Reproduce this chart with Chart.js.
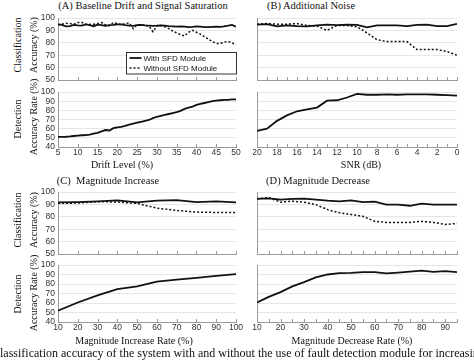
<!DOCTYPE html>
<html>
<head>
<meta charset="utf-8">
<script src="https://cdn.jsdelivr.net/npm/chart.js@4.4.0/dist/chart.umd.min.js"></script>
<style>
  html, body { margin: 0; padding: 0; background: #fff; }
  #wrap { position: relative; width: 474px; height: 362px; overflow: hidden;
          font-family: "Liberation Serif", "Times New Roman", serif; color: #111; }
  canvas { position: absolute; }
  .t { position: absolute; font-size: 10px; line-height: 1; white-space: nowrap; transform: translate(-50%, -50%); }
  .v { position: absolute; font-size: 10px; line-height: 1; white-space: nowrap; transform: translate(-50%, -50%) rotate(-90deg); }
  .h { font-size: 10.5px; }
  .cap { position: absolute; left: 0; top: 347px; font-size: 12px; line-height: 1; white-space: nowrap; }
</style>
</head>
<body>
<div id="wrap">
  <canvas id="aCls"></canvas>
  <canvas id="aDet"></canvas>
  <canvas id="bCls"></canvas>
  <canvas id="bDet"></canvas>
  <canvas id="cCls"></canvas>
  <canvas id="cDet"></canvas>
  <canvas id="dCls"></canvas>
  <canvas id="dDet"></canvas>

  <div class="t h" style="left:143px;top:6px">(A) Baseline Drift and Signal Saturation</div>
  <div class="t h" style="left:311px;top:6px">(B) Additional Noise</div>
  <div class="t h" style="left:108px;top:181px">(C)&nbsp; Magnitude Increase</div>
  <div class="t h" style="left:318px;top:181px">(D) Magnitude Decrease</div>

  <div class="v" style="left:18px;top:45px">Classification</div>
  <div class="v" style="left:34px;top:45px">Accuracy (%)</div>
  <div class="v" style="left:18px;top:119px">Detection</div>
  <div class="v" style="left:34px;top:117px">Accuracy Rate (%)</div>
  <div class="v" style="left:18px;top:220px">Classification</div>
  <div class="v" style="left:34px;top:220px">Accuracy (%)</div>
  <div class="v" style="left:18px;top:294px">Detection</div>
  <div class="v" style="left:34px;top:293px">Accuracy Rate (%)</div>

  <div class="t" style="left:122px;top:165px">Drift Level (%)</div>
  <div class="t" style="left:361px;top:165px">SNR (dB)</div>
  <div class="t" style="left:134px;top:341px">Magnitude Increase Rate (%)</div>
  <div class="t" style="left:352px;top:341px">Magnitude Decrease Rate (%)</div>

  <div class="cap">lassification accuracy of the system with and without the use of fault detection module for increasing signal d</div>
</div>

<script>
// (A) baseline drift
const driftLevel = [5,6,7,8,9,10,11,12,13,14,15,16,17,18,19,20,21,22,23,24,25,26,27,28,29,30,31,32,33,34,35,36,37,38,39,40,41,42,43,44,45,46,47,48,49,50];
const driftClsWith = [94.9,94.5,93.2,93.5,94.5,94,93.8,94.8,94.2,93.4,94.6,94.2,93.6,94.3,94.5,94.8,94.9,94.3,93.8,93.6,94.2,94.4,94,93.8,93.6,93.8,94.1,93.9,93.5,93.3,93,93.2,93,92.6,92.8,93.2,93,92.6,92.6,92.9,93,92.8,93.2,93.8,94.5,93];
const driftClsWithout = [94.5,95,95.8,95.5,95,96.3,96.5,95,94.8,95,95.5,96.3,94.5,93.8,96.3,95.5,94.5,95.5,96,91.5,94.5,94.5,94,93.5,89,93.5,94,93,91.5,89.5,88,86.5,85.5,88.5,90,88.5,87,85,83,81,79.5,79.5,80.5,81,80,78.5];
const driftDet = [51,51,51.2,51.5,52,52.5,52.8,53,53.5,54.5,55.5,57,58.5,58,60.5,61.5,62,63,64.5,65.5,66.5,67.5,68.5,69.5,71.5,73,74,75,76,77,78,79.5,81.5,83,84,86,87,88,89,90,90.5,91,91.5,91.5,92,92];

// (B) additional noise
const snrLevel = [20,19,18,17,16,15,14,13,12,11,10,9,8,7,6,5,4,3,2,1,0];
const noiseClsWith = [94.7,95,93.3,94,93.5,93.3,94,94.7,94.2,94.7,94.5,92.5,94,94,94,93.5,94.5,94.7,93.5,93.5,95.2];
const noiseClsWithout = [95,95.5,95,95,95.5,94,93.5,90,94,94,93,88,82.5,81,81,81,74.5,74.5,74.5,73,70];
const noiseDet = [57.5,60,68.5,74.5,79,81,83,90.5,91,94,98,97,97,97.5,97,97.5,97.5,97.5,97,96.5,96];

// (C) magnitude increase
const incRate = [10,20,30,40,50,60,70,80,90,100];
const incClsWith = [91.6,91.9,92.4,93.2,91.6,93,93.5,91.9,92.4,91.6];
const incClsWithout = [90.8,91.1,92.2,91.9,90.8,87,85.1,83.8,83.5,83.5];
const incDet = [52,60.5,68,74.5,77.5,82.5,84.5,86.5,88.5,90.5];

// (D) magnitude decrease
const decRate = [10,15,20,25,30,35,40,45,50,55,60,65,70,75,80,85,90,95];
const decClsWith = [94.4,94.8,93.8,94.4,94.6,93.8,93,92.5,93.3,91.8,92.2,89.8,89.8,88.9,90.6,89.8,89.8,89.8];
const decClsWithout = [94.6,95.4,91.8,92.6,91.8,89.8,85.8,83.2,81.8,80.4,76.4,75.5,75.5,75.5,76.3,75.5,73.8,74.6];
const decDet = [60.5,66.5,71.5,77.5,82,87,90,91.5,91.8,92.4,92.4,91.2,92,93,94,92.8,93.5,92.5];

const tickFont = { family: '"Liberation Sans Narrow", "Liberation Sans", Arial, sans-serif', size: 8.5 };
const axisColor = '#9a9a9a';

// small tick marks pointing into the plot from the x axis
const innerTicks = {
  id: 'innerTicks',
  afterDraw(chart, args, opts) {
    const xs = chart.scales.x, a = chart.chartArea, ctx = chart.ctx;
    ctx.save();
    ctx.strokeStyle = axisColor;
    ctx.lineWidth = 1;
    ctx.beginPath();
    for (let v = xs.min; v <= xs.max + 1e-6; v += opts.step) {
      const px = Math.round(xs.getPixelForValue(v)) + 0.5;
      ctx.moveTo(px, a.bottom);
      ctx.lineTo(px, a.bottom - 3);
    }
    ctx.stroke();
    ctx.restore();
  }
};

// boxed legend in the lower right of the plot
const boxLegend = {
  id: 'boxLegend',
  afterDraw(chart, args, opts) {
    if (!opts.show) return;
    const a = chart.chartArea, ctx = chart.ctx;
    const w = 110, h = 21.5;
    const x0 = Math.round(a.right - w) + 0.5, y0 = Math.round(a.bottom - h - 7) + 0.5;
    ctx.save();
    ctx.fillStyle = '#fff';
    ctx.fillRect(x0, y0, w, h);
    ctx.strokeStyle = '#333';
    ctx.lineWidth = 1;
    ctx.strokeRect(x0, y0, w, h);
    ctx.font = '8px "Liberation Sans", Arial, sans-serif';
    ctx.textBaseline = 'middle';
    chart.data.datasets.forEach((ds, i) => {
      const yy = y0 + 5.5 + i * 10;
      ctx.strokeStyle = ds.borderColor;
      ctx.lineWidth = ds.borderWidth;
      ctx.setLineDash(ds.borderDash || []);
      ctx.beginPath();
      ctx.moveTo(x0 + 3, yy);
      ctx.lineTo(x0 + 15, yy);
      ctx.stroke();
      ctx.setLineDash([]);
      ctx.fillStyle = '#111';
      ctx.fillText(ds.label, x0 + 17, yy + 0.5);
    });
    ctx.restore();
  }
};

function pts(xs, ys) { return xs.map((x, i) => ({ x: x, y: ys[i] })); }

function panel(id, box, o) {
  const padTop = 6, padRight = 14;
  const yW = o.yLabels ? 30 : 4;
  const xH = o.xLabels ? 16 : 2;
  const cv = document.getElementById(id);
  const w = (box.r - box.l) + yW + padRight;
  const h = (box.b - box.t) + padTop + xH;
  cv.width = w; cv.height = h;
  cv.style.width = w + 'px'; cv.style.height = h + 'px';
  cv.style.left = (box.l - yW) + 'px';
  cv.style.top = (box.t - padTop) + 'px';

  const datasets = o.series.map(s => ({
    label: s.label,
    data: pts(o.xs, s.ys),
    borderColor: '#111',
    borderWidth: s.dash ? 1.5 : 1.8,
    borderDash: s.dash || [],
    pointRadius: 0,
    tension: 0,
    fill: false
  }));

  return new Chart(cv, {
    type: 'line',
    data: { datasets },
    plugins: [innerTicks, boxLegend],
    options: {
      responsive: false,
      animation: false,
      layout: { padding: { top: padTop, right: padRight, left: 0, bottom: 0 } },
      plugins: {
        legend: { display: false },
        tooltip: { enabled: false },
        innerTicks: { step: o.markStep },
        boxLegend: { show: !!o.legend }
      },
      scales: {
        x: {
          type: 'linear', min: o.xMin, max: o.xMax, reverse: !!o.reverse,
          ticks: { display: o.xLabels, stepSize: o.xStep, includeBounds: false, autoSkip: false,
                   maxRotation: 0, font: tickFont, color: '#333', padding: 1 },
          grid: { display: false, drawTicks: false },
          border: { display: true, color: axisColor, width: 1 },
          afterFit: s => { s.height = xH; s.paddingLeft = 0; s.paddingRight = 0; }
        },
        y: {
          min: o.yMin, max: 100,
          ticks: { display: o.yLabels, stepSize: 10, autoSkip: false, font: tickFont, color: '#333', padding: 3 },
          grid: { color: '#e6e6e6', drawTicks: false },
          border: { display: true, color: axisColor, width: 1 },
          afterFit: s => { s.width = yW; s.paddingTop = 0; s.paddingBottom = 0; }
        }
      }
    }
  });
}

const L = { l: 58, r: 236 }, R = { l: 257, r: 457 };
const withLbl = 'With SFD Module', withoutLbl = 'Without SFD Module';

panel('aCls', { l: L.l, r: L.r, t: 18, b: 80 }, {
  xs: driftLevel, xMin: 5, xMax: 50, xStep: 5, markStep: 5, yMin: 50, yLabels: true, xLabels: false, legend: true,
  series: [{ label: withLbl, ys: driftClsWith }, { label: withoutLbl, ys: driftClsWithout, dash: [2, 2] }]
});
panel('aDet', { l: L.l, r: L.r, t: 92, b: 147 }, {
  xs: driftLevel, xMin: 5, xMax: 50, xStep: 5, markStep: 5, yMin: 40, yLabels: true, xLabels: true,
  series: [{ label: 'Detection', ys: driftDet }]
});
panel('bCls', { l: R.l, r: R.r, t: 18, b: 80 }, {
  xs: snrLevel, xMin: 0, xMax: 20, xStep: 2, markStep: 1, reverse: true, yMin: 50, yLabels: false, xLabels: false,
  series: [{ label: withLbl, ys: noiseClsWith }, { label: withoutLbl, ys: noiseClsWithout, dash: [2, 2] }]
});
panel('bDet', { l: R.l, r: R.r, t: 92, b: 147 }, {
  xs: snrLevel, xMin: 0, xMax: 20, xStep: 2, markStep: 1, reverse: true, yMin: 40, yLabels: false, xLabels: true,
  series: [{ label: 'Detection', ys: noiseDet }]
});
panel('cCls', { l: L.l, r: L.r, t: 192, b: 254 }, {
  xs: incRate, xMin: 10, xMax: 100, xStep: 10, markStep: 10, yMin: 50, yLabels: true, xLabels: false,
  series: [{ label: withLbl, ys: incClsWith }, { label: withoutLbl, ys: incClsWithout, dash: [2, 2] }]
});
panel('cDet', { l: L.l, r: L.r, t: 265, b: 322 }, {
  xs: incRate, xMin: 10, xMax: 100, xStep: 10, markStep: 10, yMin: 40, yLabels: true, xLabels: true,
  series: [{ label: 'Detection', ys: incDet }]
});
panel('dCls', { l: R.l, r: R.r, t: 192, b: 254 }, {
  xs: decRate, xMin: 10, xMax: 95, xStep: 10, markStep: 5, yMin: 50, yLabels: false, xLabels: false,
  series: [{ label: withLbl, ys: decClsWith }, { label: withoutLbl, ys: decClsWithout, dash: [2, 2] }]
});
panel('dDet', { l: R.l, r: R.r, t: 265, b: 322 }, {
  xs: decRate, xMin: 10, xMax: 95, xStep: 10, markStep: 5, yMin: 40, yLabels: false, xLabels: true,
  series: [{ label: 'Detection', ys: decDet }]
});
</script>
</body>
</html>
